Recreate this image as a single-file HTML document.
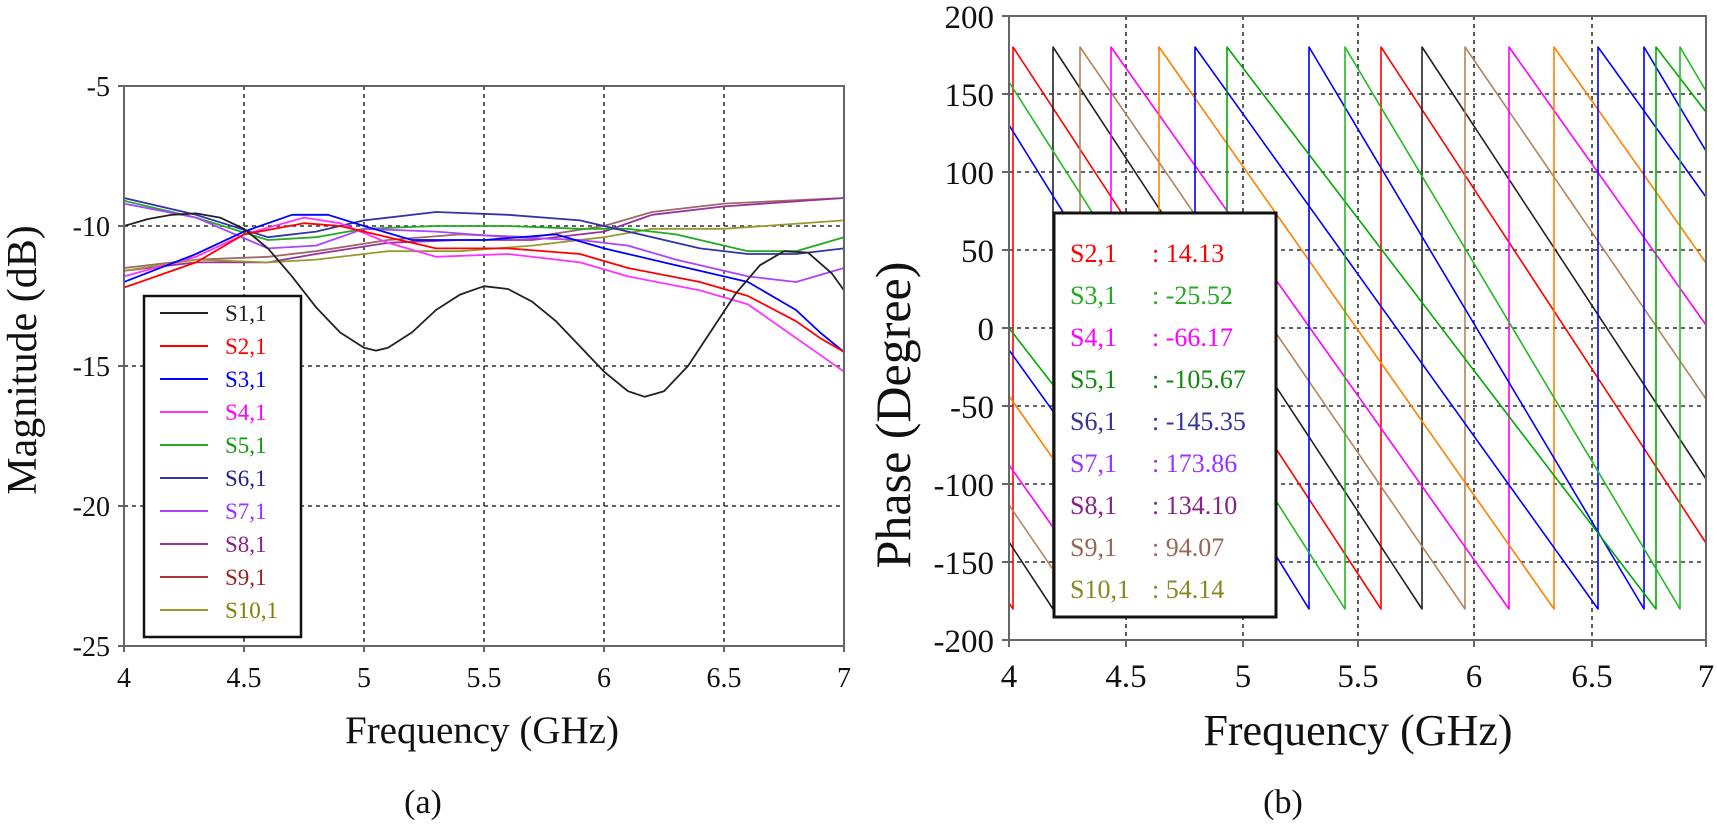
<!DOCTYPE html>
<html><head><meta charset="utf-8"><style>
html,body{margin:0;padding:0;background:#fff;}
svg{display:block;}
text{font-family:"Liberation Serif",serif;}
</style></head><body>
<svg width="1717" height="826" viewBox="0 0 1717 826" xmlns="http://www.w3.org/2000/svg">
<rect width="1717" height="826" fill="#fff"/>

<!-- ============ LEFT PLOT ============ -->
<g stroke="#333" stroke-width="1.6" stroke-dasharray="4 4" fill="none">
  <line x1="244" y1="86" x2="244" y2="646"/><line x1="364" y1="86" x2="364" y2="646"/>
  <line x1="484" y1="86" x2="484" y2="646"/><line x1="604" y1="86" x2="604" y2="646"/>
  <line x1="724" y1="86" x2="724" y2="646"/>
  <line x1="124" y1="226" x2="844" y2="226"/><line x1="124" y1="366" x2="844" y2="366"/>
  <line x1="124" y1="506" x2="844" y2="506"/>
</g>
<g transform="translate(124,86) scale(240,28)" fill="none" stroke-width="1.8" stroke-linejoin="round">
  <polyline vector-effect="non-scaling-stroke" stroke="#a06868" points="0,6.5 .3,6.2 .6,6.1 .8,5.9 1.1,5.5 1.4,5.3 1.7,5.4 2.0,5.0 2.2,4.5 2.5,4.2 3,4.0"/>
  <polyline vector-effect="non-scaling-stroke" stroke="#993399" points="0,6.6 .3,6.3 .6,6.3 .8,6.0 1.1,5.6 1.4,5.5 1.7,5.5 2.0,5.2 2.2,4.6 2.5,4.3 3,4.0"/>
  <polyline vector-effect="non-scaling-stroke" stroke="#999933" points="0,6.6 .3,6.2 .6,6.3 .8,6.2 1.1,5.9 1.4,5.9 1.7,5.7 2.0,5.4 2.2,5.1 2.5,5.1 3,4.8"/>
  <polyline vector-effect="non-scaling-stroke" stroke="#22aa22" points="0,4.1 .3,4.7 .6,5.5 .8,5.4 1.0,5.1 1.3,5.0 1.6,5.0 1.9,5.1 2.1,5.1 2.3,5.3 2.6,5.9 2.8,5.9 3,5.4"/>
  <polyline vector-effect="non-scaling-stroke" stroke="#3333aa" points="0,4.0 .3,4.6 .6,5.4 .8,5.2 1.0,4.8 1.3,4.5 1.6,4.6 1.9,4.8 2.1,5.2 2.4,5.8 2.6,6.0 2.8,6.0 3,5.8"/>
  <polyline vector-effect="non-scaling-stroke" stroke="#aa44ff" points="0,4.2 .3,4.7 .6,5.8 .8,5.7 1.0,5.1 1.3,5.2 1.6,5.4 1.9,5.5 2.1,5.7 2.3,6.2 2.6,6.8 2.8,7.0 3,6.5"/>
  <polyline vector-effect="non-scaling-stroke" stroke="#ff33ff" points="0,6.8 .3,6.1 .5,5.3 .75,4.7 .9,4.9 1.1,5.6 1.3,6.1 1.6,6.0 1.9,6.3 2.1,6.8 2.4,7.3 2.6,7.8 2.8,9.0 2.9,9.6 3,10.2"/>
  <polyline vector-effect="non-scaling-stroke" stroke="#0000ff" points="0,7.0 .3,6.0 .5,5.2 .7,4.6 .85,4.6 1.0,5.0 1.2,5.5 1.5,5.5 1.8,5.3 2.0,5.8 2.3,6.4 2.6,7.0 2.8,8.0 2.9,8.8 3,9.5"/>
  <polyline vector-effect="non-scaling-stroke" stroke="#ff0000" points="0,7.2 .3,6.3 .5,5.3 .75,4.9 .9,5.0 1.1,5.4 1.3,5.8 1.6,5.8 1.9,6.0 2.1,6.5 2.4,7.0 2.6,7.5 2.8,8.4 2.9,9.0 3,9.5"/>
  <polyline vector-effect="non-scaling-stroke" stroke="#222" points="0,5 .1,4.75 .2,4.6 .3,4.55 .4,4.7 .5,5.1 .6,5.8 .7,6.8 .8,7.9 .9,8.8 1.0,9.35 1.05,9.45 1.1,9.35 1.2,8.8 1.3,8.0 1.4,7.45 1.5,7.15 1.6,7.25 1.7,7.7 1.8,8.4 1.9,9.3 2.0,10.2 2.1,10.9 2.17,11.1 2.25,10.9 2.35,10.0 2.45,8.7 2.55,7.4 2.65,6.4 2.75,5.9 2.85,5.95 2.95,6.7 3.0,7.3"/>
</g>
<rect x="124" y="86" width="720" height="560" fill="none" stroke="#666" stroke-width="2"/>
<g stroke="#666" stroke-width="2">
  <line x1="118" y1="86" x2="124" y2="86"/><line x1="118" y1="226" x2="124" y2="226"/>
  <line x1="118" y1="366" x2="124" y2="366"/><line x1="118" y1="506" x2="124" y2="506"/>
  <line x1="118" y1="646" x2="124" y2="646"/>
  <line x1="124" y1="646" x2="124" y2="652"/><line x1="244" y1="646" x2="244" y2="652"/>
  <line x1="364" y1="646" x2="364" y2="652"/><line x1="484" y1="646" x2="484" y2="652"/>
  <line x1="604" y1="646" x2="604" y2="652"/><line x1="724" y1="646" x2="724" y2="652"/>
  <line x1="844" y1="646" x2="844" y2="652"/>
</g>
<g font-size="28" fill="#111" text-anchor="end">
  <text x="110" y="96">-5</text><text x="110" y="236">-10</text><text x="110" y="376">-15</text>
  <text x="110" y="516">-20</text><text x="110" y="656">-25</text>
</g>
<g font-size="28" fill="#111" text-anchor="middle">
  <text x="124" y="687">4</text><text x="244" y="687">4.5</text><text x="364" y="687">5</text>
  <text x="484" y="687">5.5</text><text x="604" y="687">6</text><text x="724" y="687">6.5</text>
  <text x="844" y="687">7</text>
</g>
<text x="482" y="743" font-size="39" text-anchor="middle" fill="#111">Frequency (GHz)</text>
<text transform="translate(36,360) rotate(-90)" font-size="42" text-anchor="middle" fill="#111">Magnitude (dB)</text>
<text x="423" y="813" font-size="34" text-anchor="middle" fill="#111">(a)</text>

<!-- left legend -->
<rect x="144" y="296" width="157" height="341" fill="#fff" stroke="#111" stroke-width="2.5"/>
<g stroke-width="2">
  <line x1="160" y1="313" x2="208" y2="313" stroke="#222"/>
  <line x1="160" y1="346" x2="208" y2="346" stroke="#ff0000"/>
  <line x1="160" y1="379" x2="208" y2="379" stroke="#0000ff"/>
  <line x1="160" y1="412" x2="208" y2="412" stroke="#ff33ff"/>
  <line x1="160" y1="445" x2="208" y2="445" stroke="#22aa22"/>
  <line x1="160" y1="478" x2="208" y2="478" stroke="#3333aa"/>
  <line x1="160" y1="511" x2="208" y2="511" stroke="#aa44ff"/>
  <line x1="160" y1="544" x2="208" y2="544" stroke="#993399"/>
  <line x1="160" y1="577" x2="208" y2="577" stroke="#aa3333"/>
  <line x1="160" y1="610" x2="208" y2="610" stroke="#999933"/>
</g>
<g font-size="23">
  <text x="225" y="321" fill="#222">S1,1</text>
  <text x="225" y="354" fill="#ff0000">S2,1</text>
  <text x="225" y="387" fill="#0000ff">S3,1</text>
  <text x="225" y="420" fill="#ff00ff">S4,1</text>
  <text x="225" y="453" fill="#119911">S5,1</text>
  <text x="225" y="486" fill="#222288">S6,1</text>
  <text x="225" y="519" fill="#9933ff">S7,1</text>
  <text x="225" y="552" fill="#882288">S8,1</text>
  <text x="225" y="585" fill="#992222">S9,1</text>
  <text x="225" y="618" fill="#808000">S10,1</text>
</g>

<!-- ============ RIGHT PLOT ============ -->
<g stroke="#333" stroke-width="1.6" stroke-dasharray="4 4" fill="none">
  <line x1="1126" y1="16" x2="1126" y2="640"/><line x1="1243" y1="16" x2="1243" y2="640"/>
  <line x1="1358" y1="16" x2="1358" y2="640"/><line x1="1474" y1="16" x2="1474" y2="640"/>
  <line x1="1592" y1="16" x2="1592" y2="640"/>
  <line x1="1009" y1="94" x2="1706" y2="94"/><line x1="1009" y1="172" x2="1706" y2="172"/>
  <line x1="1009" y1="250" x2="1706" y2="250"/><line x1="1009" y1="328" x2="1706" y2="328"/>
  <line x1="1009" y1="406" x2="1706" y2="406"/><line x1="1009" y1="484" x2="1706" y2="484"/>
  <line x1="1009" y1="562" x2="1706" y2="562"/>
</g>
<g fill="none" stroke-width="1.6" stroke-linejoin="round">
  <polyline stroke="#ff0000" points="1009,603 1013,609 1013,47 1381,609 1381,47 1706,543"/>
  <polyline stroke="#222" points="1009,542 1053,609 1053,47 1422,609 1422,47 1706,479"/>
  <polyline stroke="#b5845a" points="1009,505 1080,609 1080,47 1465,609 1465,47 1706,399"/>
  <polyline stroke="#ff00ff" points="1009,465 1111,609 1111,47 1509,609 1509,47 1706,325"/>
  <polyline stroke="#ff8000" points="1009,396 1159,609 1159,47 1554,609 1554,47 1706,263"/>
  <polyline stroke="#0000ff" points="1009,350 1195,609 1195,47 1598,609 1598,47 1706,197"/>
  <polyline stroke="#0000ff" points="1009,125 1309,609 1309,47 1644,609 1644,47 1706,151"/>
  <polyline stroke="#00aa00" points="1009,328 1227,609 1227,47 1656,609 1656,47 1706,112"/>
  <polyline stroke="#22bb22" points="1009,82 1345,609 1345,47 1680,609 1680,47 1706,91"/>
</g>
<rect x="1009" y="16" width="697" height="624" fill="none" stroke="#666" stroke-width="2"/>
<g stroke="#666" stroke-width="2">
  <line x1="1002" y1="16" x2="1009" y2="16"/><line x1="1002" y1="94" x2="1009" y2="94"/>
  <line x1="1002" y1="172" x2="1009" y2="172"/><line x1="1002" y1="250" x2="1009" y2="250"/>
  <line x1="1002" y1="328" x2="1009" y2="328"/><line x1="1002" y1="406" x2="1009" y2="406"/>
  <line x1="1002" y1="484" x2="1009" y2="484"/><line x1="1002" y1="562" x2="1009" y2="562"/>
  <line x1="1002" y1="640" x2="1009" y2="640"/>
  <line x1="1009" y1="640" x2="1009" y2="647"/><line x1="1126" y1="640" x2="1126" y2="647"/>
  <line x1="1243" y1="640" x2="1243" y2="647"/><line x1="1358" y1="640" x2="1358" y2="647"/>
  <line x1="1474" y1="640" x2="1474" y2="647"/><line x1="1592" y1="640" x2="1592" y2="647"/>
  <line x1="1706" y1="640" x2="1706" y2="647"/>
</g>
<g font-size="33" fill="#111" text-anchor="end">
  <text x="994" y="28">200</text><text x="994" y="106">150</text><text x="994" y="184">100</text>
  <text x="994" y="262">50</text><text x="994" y="340">0</text><text x="994" y="418">-50</text>
  <text x="994" y="496">-100</text><text x="994" y="574">-150</text><text x="994" y="652">-200</text>
</g>
<g font-size="33" fill="#111" text-anchor="middle">
  <text x="1009" y="687">4</text><text x="1126" y="687">4.5</text><text x="1243" y="687">5</text>
  <text x="1358" y="687">5.5</text><text x="1474" y="687">6</text><text x="1592" y="687">6.5</text>
  <text x="1706" y="687">7</text>
</g>
<text x="1358" y="745" font-size="44" text-anchor="middle" fill="#111">Frequency (GHz)</text>
<text transform="translate(910,415) rotate(-90)" font-size="50" text-anchor="middle" fill="#111">Phase (Degree)</text>
<text x="1283" y="813" font-size="34" text-anchor="middle" fill="#111">(b)</text>

<!-- right legend -->
<rect x="1054" y="213" width="222" height="404" fill="#fff" stroke="#111" stroke-width="3"/>
<g font-size="26">
  <text x="1070" y="262" fill="#ff0000">S2,1</text><text x="1152" y="262" fill="#ff0000">: 14.13</text>
  <text x="1070" y="304" fill="#22aa22">S3,1</text><text x="1152" y="304" fill="#22aa22">: -25.52</text>
  <text x="1070" y="346" fill="#ff00ff">S4,1</text><text x="1152" y="346" fill="#ff00ff">: -66.17</text>
  <text x="1070" y="388" fill="#118811">S5,1</text><text x="1152" y="388" fill="#118811">: -105.67</text>
  <text x="1070" y="430" fill="#333399">S6,1</text><text x="1152" y="430" fill="#333399">: -145.35</text>
  <text x="1070" y="472" fill="#9933ff">S7,1</text><text x="1152" y="472" fill="#9933ff">: 173.86</text>
  <text x="1070" y="514" fill="#882288">S8,1</text><text x="1152" y="514" fill="#882288">: 134.10</text>
  <text x="1070" y="556" fill="#996655">S9,1</text><text x="1152" y="556" fill="#996655">: 94.07</text>
  <text x="1070" y="598" fill="#888822">S10,1</text><text x="1152" y="598" fill="#888822">: 54.14</text>
</g>
</svg>
</body></html>
